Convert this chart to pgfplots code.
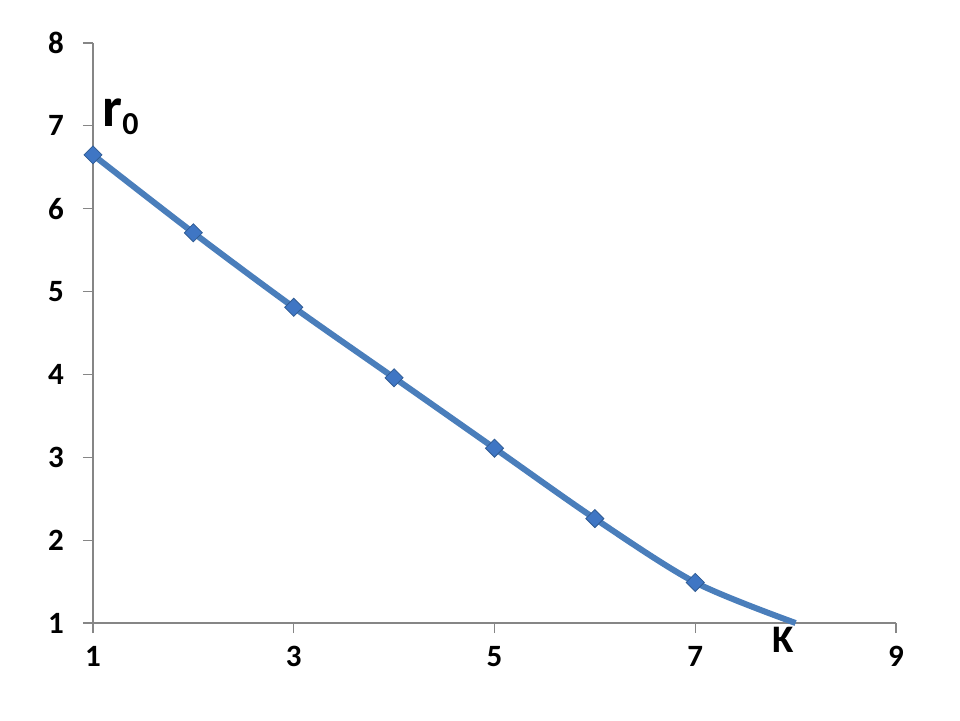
\documentclass[border=0pt]{standalone}
\usepackage{pgfplots}
\pgfplotsset{compat=1.18}
\usepackage{fontspec}
\setmainfont{Carlito}
\definecolor{lineblue}{HTML}{4A7EBB}
\definecolor{markblue}{HTML}{3F76C4}
\definecolor{markedge}{HTML}{2F5B93}
\definecolor{axgray}{HTML}{868686}
\begin{document}
\begin{tikzpicture}
\useasboundingbox (-46.5pt,-48.5pt) rectangle (433.5pt,311.5pt);
\begin{axis}[
  at={(0,0)}, anchor=south west,
  scale only axis, width=401.5pt, height=290pt,
  xmin=1, xmax=9, ymin=1, ymax=8,
  xtick={1,3,5,7,9}, ytick={1,2,3,4,5,6,7,8},
  axis x line*=bottom, axis y line*=left,
  axis line style={-, draw=axgray, line width=0.6pt},
  tick style={draw=axgray, line width=0.6pt},
  tick align=outside, major tick length=5pt,
  /pgf/number format/assume math mode=true,
  tick label style={font=\bfseries\fontsize{15.5}{15.5}\selectfont, text=black},
  xticklabel style={yshift=-3pt},
  yticklabel style={xshift=-6pt},
  clip=false,
]
\addplot[lineblue, line width=3pt, smooth, mark=square*, mark size=3.2pt,
  mark options={fill=markblue, draw=markedge, line width=0.4pt, rotate=45},
  mark indices={1,2,3,4,5,6,7}]
  coordinates {(1,6.65) (2,5.71) (3,4.81) (4,3.96) (5,3.11) (6,2.26) (7,1.49) (8,1.0)};
\node[anchor=base west, inner sep=0pt, font=\bfseries\fontsize{28}{28}\selectfont] at (axis cs:1.09,6.99) {r\raisebox{-4pt}{\fontsize{16}{16}\selectfont 0}};
\node[anchor=base west, inner sep=0pt, font=\bfseries\fontsize{19.5}{19.5}\selectfont] at (axis cs:7.77,0.65) {K};
\end{axis}
\end{tikzpicture}
\end{document}
